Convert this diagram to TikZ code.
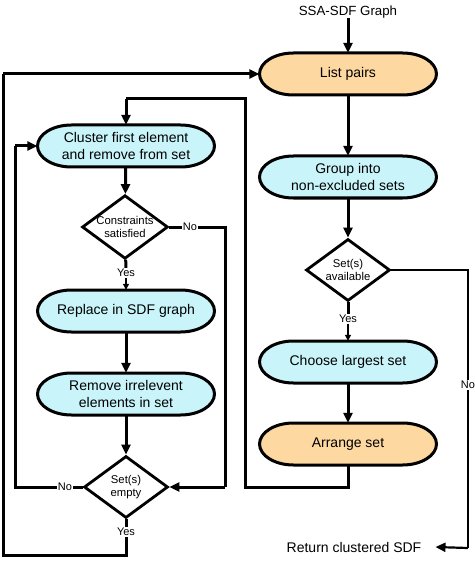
\documentclass[tikz,border=0pt]{standalone}
\usepackage{fontspec}
\setmainfont{Liberation Sans}
\usetikzlibrary{shapes.geometric,arrows.meta}
\definecolor{orangefill}{HTML}{FDD8A0}
\definecolor{cyanfill}{HTML}{C9F5FA}
\tikzset{
  stadium/.style={rectangle, minimum width=177pt, minimum height=42pt, inner sep=0pt, align=center, font=\fontsize{14}{17}\selectfont},
  outline/.style={draw, line width=3pt},
  decision/.style={diamond, draw, line width=2.8pt, fill=white, minimum width=84pt, minimum height=62pt, aspect=1.35, inner sep=0pt, align=center, font=\fontsize{11.3}{13}\selectfont},
  lbl/.style={fill=white, inner sep=1pt, font=\fontsize{11}{13}\selectfont},
  plaintext/.style={inner sep=0pt, font=\fontsize{14}{17}\selectfont},
  conn/.style={line width=3pt},
  arr/.style={conn, -{Triangle[length=10pt,width=9pt]}},
  thinarr/.style={line width=1.2pt, -{Triangle[length=6pt,width=6pt]}},
  thinconn/.style={line width=2.2pt},
}
% elliptical-ended stadium outline centred at (#1,#2), filled with #3
\newcommand\stadiumshape[3]{%
  \path[outline, fill=#3] (#1-54.5,#2-21) -- (#1+54.5,#2-21)
    arc[start angle=-90, end angle=90, x radius=34, y radius=21]
    -- (#1-54.5,#2+21)
    arc[start angle=90, end angle=270, x radius=34, y radius=21] -- cycle;}
\begin{document}
\begin{tikzpicture}[x=1pt,y=-1pt]
\useasboundingbox (0,0) rectangle (474,569);
% shapes
\stadiumshape{348}{74}{orangefill}
\stadiumshape{348}{177}{cyanfill}
\stadiumshape{348}{362}{cyanfill}
\stadiumshape{348}{444}{orangefill}
\stadiumshape{126}{146}{cyanfill}
\stadiumshape{126}{311}{cyanfill}
\stadiumshape{126}{394}{cyanfill}
% nodes
\node[plaintext, font=\fontsize{13.3}{16}\selectfont] (start) at (348,12) {SSA-SDF Graph};
\node[stadium] (lp) at (348,74) {List pairs};
\node[stadium] (grp) at (348,177) {Group into\\non-excluded sets};
\node[decision] (sa) at (348,270) {Set(s)\\available};
\node[stadium] (cl) at (348,362) {Choose largest set};
\node[stadium] (ar) at (348,444) {Arrange set};
\node[plaintext] (ret) at (354,547) {Return clustered SDF};

\node[stadium] (cf) at (126,146) {Cluster first element\\and remove from set};
\node[decision] (cs) at (125,227) {Constraints\\satisfied};
\node[stadium] (rp) at (126,311) {Replace in SDF graph};
\node[stadium] (ri) at (126,394) {Remove irrelevent\\elements in set};
\node[decision] (se) at (126,487) {Set(s)\\empty};

% labels
\node[lbl] (yes1) at (348,319) {Yes};
\node[lbl] (no1) at (468,385) {No};
\node[lbl] (yes2) at (126,273) {Yes};
\node[lbl] (no2) at (190,227) {No};
\node[lbl] (no3) at (65,487) {No};
\node[lbl] (yes3) at (126,532) {Yes};

% corner coordinates
\coordinate (a1) at (348,487);
\coordinate (a2) at (245,487);
\coordinate (a3) at (245,99);
\coordinate (a4) at (126,99);
\coordinate (b1) at (468,270);
\coordinate (b2) at (468,548);
\coordinate (c1) at (225,227);
\coordinate (c2) at (225,487);
\coordinate (d1) at (15,487);
\coordinate (d2) at (15,146);
\coordinate (e1) at (126,555);
\coordinate (e2) at (3,555);
\coordinate (e3) at (3,74);

% right column
\draw[arr] (start) -- (lp);
\draw[arr] (lp) -- (grp);
\draw[arr] (grp) -- (sa);
\draw[conn] (sa) -- (yes1);
\draw[thinarr] (yes1) -- (cl);
\draw[arr] (cl) -- (ar);
\draw[conn] (ar) -- (a1) -- (a2) -- (a3) -- (a4);
\draw[arr] (a4) -- (cf);
\draw[thinconn] (sa.east) -- (b1) -- (no1);
\draw[thinconn] (no1) -- (b2);
\draw[arr, line width=2.2pt] (b2) -- ([xshift=14pt]ret.east);

% left column
\draw[arr] (cf) -- (cs);
\draw[conn] (cs) -- (yes2);
\draw[thinarr] (yes2) -- (rp);
\draw[conn] (cs.east) -- (no2);
\draw[conn] (no2) -- (c1) -- (c2);
\draw[arr] (c2) -- (se.east);
\draw[arr] (rp) -- (ri);
\draw[arr] (ri) -- (se);
\draw[conn] (se.west) -- (no3);
\draw[conn] (no3) -- (d1) -- (d2);
\draw[arr] (d2) -- (cf.west);
\draw[conn] (se.south) -- (yes3);
\draw[conn] (yes3) -- (e1) -- (e2) -- (e3);
\draw[arr] (e3) -- (lp.west);
\end{tikzpicture}
\end{document}
